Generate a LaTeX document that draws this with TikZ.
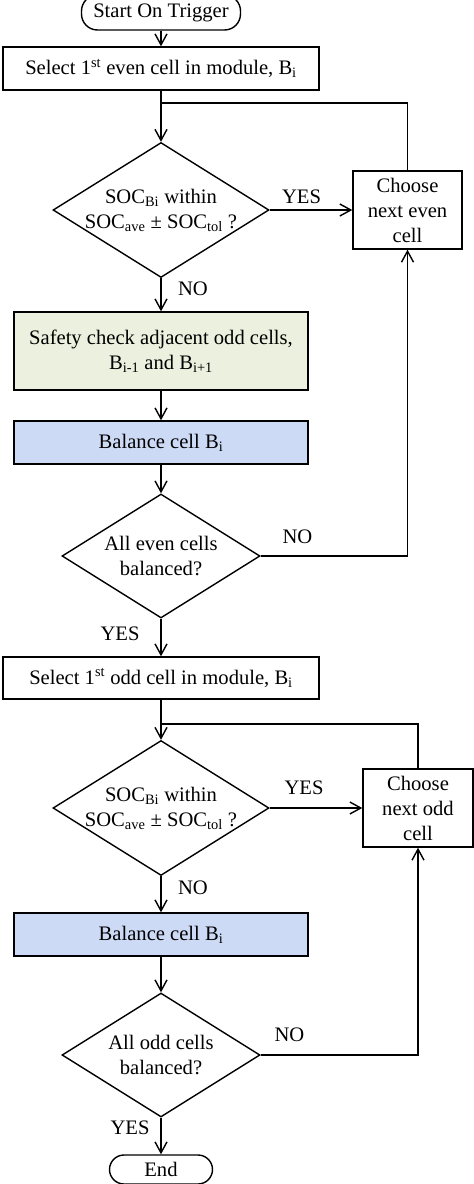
\documentclass[tikz,border=0pt]{standalone}
\usepackage{fontspec}
\setmainfont{Liberation Serif}
\usetikzlibrary{shapes.geometric,arrows.meta}
\definecolor{safefill}{RGB}{235,241,222}
\definecolor{balfill}{RGB}{205,218,246}
\tikzset{
  txt/.style={font=\fontsize{20.6}{25}\selectfont, align=center, inner sep=0pt},
  boxnode/.style={txt, draw, line width=1.4pt, rectangle},
  termnode/.style={boxnode, rounded corners=#1},
  decnode/.style={draw, line width=1.4pt, diamond, inner sep=0pt},
  conn/.style={line width=1.4pt},
  arr/.style={conn, -{Straight Barb[length=11pt,width=12pt]}},
}
\begin{document}
\begin{tikzpicture}[x=1pt,y=-1pt]
\useasboundingbox (0,0) rectangle (474,1184);
% nodes
\node[termnode=16pt, minimum width=159pt, minimum height=35pt] (start) at (161,12.5) {Start On Trigger};
\node[boxnode, minimum width=316pt, minimum height=43pt] (b1) at (161,68.5) {Select 1\textsuperscript{st} even cell in module, B\textsubscript{i}};
\node[decnode, minimum width=216pt, minimum height=135pt] (d1) at (161,210) {};
\node[txt] (d1t) at (d1) {SOC\textsubscript{Bi} within\\SOC\textsubscript{ave} ± SOC\textsubscript{tol} ?};
\node[boxnode, minimum width=109pt, minimum height=78pt] (c1) at (407.5,210) {Choose\\next even\\cell};
\node[boxnode, fill=safefill, minimum width=294pt, minimum height=78pt] (s1) at (161,351) {Safety check adjacent odd cells,\\B\textsubscript{i-1} and B\textsubscript{i+1}};
\node[boxnode, fill=balfill, minimum width=294pt, minimum height=43pt] (bal1) at (161,442.5) {Balance cell B\textsubscript{i}};
\node[decnode, minimum width=198pt, minimum height=124pt] (d2) at (161,556) {};
\node[txt] (d2t) at (d2) {All even cells\\balanced?};
\node[boxnode, minimum width=316pt, minimum height=42pt] (b2) at (161,678) {Select 1\textsuperscript{st} odd cell in module, B\textsubscript{i}};
\node[decnode, minimum width=216pt, minimum height=135pt] (d3) at (161,808) {};
\node[txt] (d3t) at (d3) {SOC\textsubscript{Bi} within\\SOC\textsubscript{ave} ± SOC\textsubscript{tol} ?};
\node[boxnode, minimum width=110pt, minimum height=78pt] (c2) at (418,808) {Choose\\next odd\\cell};
\node[boxnode, fill=balfill, minimum width=294pt, minimum height=43pt] (bal2) at (161,934.5) {Balance cell B\textsubscript{i}};
\node[decnode, minimum width=198pt, minimum height=124pt] (d4) at (161,1055) {};
\node[txt] (d4t) at (d4) {All odd cells\\balanced?};
\node[termnode=14.5pt, minimum width=103pt, minimum height=29pt] (end) at (161,1169.5) {End};
% labels
\node[txt] (y1) at (301.5,197) {YES};
\node[txt] (n1) at (193,289) {NO};
\node[txt] (n2) at (297.5,537) {NO};
\node[txt] (y2) at (120,634) {YES};
\node[txt] (y3) at (304,788) {YES};
\node[txt] (n3) at (193,888) {NO};
\node[txt] (n4) at (289.5,1035) {NO};
\node[txt] (y4) at (130,1128) {YES};
% junctions
\coordinate (j1) at (161,103);
\coordinate (j2) at (161,724);
% connectors
\draw[arr] (start) -- (b1);
\draw[arr] (b1) -- (d1);
\draw[conn] (c1.north) |- (j1);
\draw[arr] (d1.east) -- (c1.west);
\draw[arr] (d1.south) -- (s1.north);
\draw[arr] (s1) -- (bal1);
\draw[arr] (bal1) -- (d2.north);
\draw[arr] (d2.east) -| (c1.south);
\draw[arr] (d2.south) -- (b2);
\draw[arr] (b2) -- (d3.north);
\draw[conn] (c2.north) |- (j2);
\draw[arr] (d3.east) -- (c2.west);
\draw[arr] (d3.south) -- (bal2);
\draw[arr] (bal2) -- (d4.north);
\draw[arr] (d4.east) -| (c2.south);
\draw[arr] (d4.south) -- (end);
\end{tikzpicture}
\end{document}
